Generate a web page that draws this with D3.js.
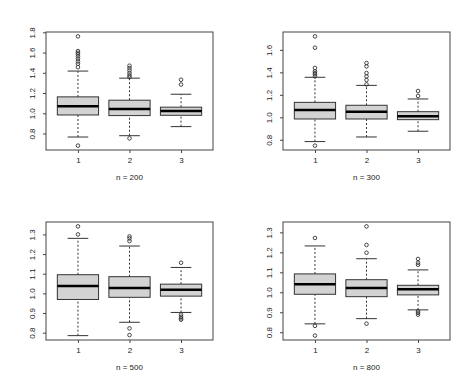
<!DOCTYPE html>
<html>
<head>
<meta charset="utf-8">
<script src="https://cdn.jsdelivr.net/npm/d3@7"></script>
<style>
  body { margin: 0; background: #fff; }
  text { font-family: "Liberation Sans", Arial, sans-serif; fill: #222; }
</style>
</head>
<body>
<div id="chart"></div>
<script>
// groups on the x axis
const groups = [1, 2, 3];
const titles = ["n = 200", "n = 300", "n = 500", "n = 800"];

// five number summaries per group: [lower whisker, q1, median, q3, upper whisker]
const box200 = [[0.765, 0.983, 1.069, 1.162, 1.417], [0.778, 0.977, 1.043, 1.129, 1.347], [0.868, 0.980, 1.023, 1.060, 1.188]];
const box300 = [[0.784, 0.985, 1.065, 1.133, 1.356], [0.825, 0.985, 1.050, 1.107, 1.284], [0.876, 0.979, 1.009, 1.050, 1.163]];
const box500 = [[0.785, 0.969, 1.037, 1.095, 1.280], [0.853, 0.980, 1.027, 1.085, 1.241], [0.903, 0.986, 1.019, 1.047, 1.132]];
const box800 = [[0.842, 0.990, 1.040, 1.092, 1.232], [0.868, 0.978, 1.022, 1.063, 1.168], [0.912, 0.987, 1.015, 1.035, 1.112]];

// outliers per group
const out200 = [[1.76, 1.615, 1.598, 1.582, 1.562, 1.539, 1.512, 1.489, 1.456, 0.68], [1.47, 1.446, 1.423, 1.397, 1.374, 1.357, 0.752], [1.331, 1.284]];
const out300 = [[1.72, 1.619, 1.439, 1.409, 1.394, 1.382, 1.364, 0.748], [1.483, 1.453, 1.394, 1.364, 1.332, 1.293], [1.234, 1.19]];
const out500 = [[1.341, 1.30], [1.29, 1.28, 1.266, 0.822, 0.788], [1.156, 0.892, 0.881, 0.873, 0.866]];
const out800 = [[1.272, 0.832, 0.783], [1.33, 1.237, 1.198, 0.843], [1.167, 1.148, 1.138, 0.905, 0.897, 0.888]];

// y tick labels
const ticks200 = [0.8, 1.0, 1.2, 1.4, 1.6, 1.8];
const ticks300 = [0.8, 1.0, 1.2, 1.4, 1.6];
const ticks500 = [0.8, 0.9, 1.0, 1.1, 1.2, 1.3];
const ticks800 = [0.8, 0.9, 1.0, 1.1, 1.2, 1.3];

const panels = [
  {title: titles[0], box: box200, out: out200, ticks: ticks200, x: 46, y: 32},
  {title: titles[1], box: box300, out: out300, ticks: ticks300, x: 283, y: 32},
  {title: titles[2], box: box500, out: out500, ticks: ticks500, x: 46, y: 222},
  {title: titles[3], box: box800, out: out800, ticks: ticks800, x: 283, y: 222}
];

const W = 474, H = 379;
const pw = 167, ph = 118;

const svg = d3.select("#chart").append("svg")
    .attr("width", W)
    .attr("height", H);

function drawPanel(p) {
  const g = svg.append("g").attr("transform", `translate(${p.x},${p.y})`);

  // R style range with 4% padding
  const all = p.box.flat().concat(p.out.flat());
  const lo = d3.min(all), hi = d3.max(all);
  const pad = (hi - lo) * 0.04;

  const y = d3.scaleLinear().domain([lo - pad, hi + pad]).range([ph, 0]);
  const x = d3.scaleLinear().domain([0.38, 3.62]).range([0, pw]);
  const bw = (x(1.4) - x(0.6));

  // boxes
  const grp = g.selectAll("g.grp")
    .data(p.box)
    .join("g")
      .attr("class", "grp");

  grp.append("line")
      .attr("x1", (d, i) => x(groups[i]))
      .attr("x2", (d, i) => x(groups[i]))
      .attr("y1", d => y(d[0]))
      .attr("y2", d => y(d[1]))
      .attr("stroke", "#333")
      .attr("stroke-dasharray", "2,2");
  grp.append("line")
      .attr("x1", (d, i) => x(groups[i]))
      .attr("x2", (d, i) => x(groups[i]))
      .attr("y1", d => y(d[3]))
      .attr("y2", d => y(d[4]))
      .attr("stroke", "#333")
      .attr("stroke-dasharray", "2,2");
  // whisker caps (half box width)
  [0, 4].forEach(k => {
    grp.append("line")
        .attr("x1", (d, i) => x(groups[i]) - bw / 4)
        .attr("x2", (d, i) => x(groups[i]) + bw / 4)
        .attr("y1", d => y(d[k]))
        .attr("y2", d => y(d[k]))
        .attr("stroke", "#333");
  });
  grp.append("rect")
      .attr("x", (d, i) => x(groups[i]) - bw / 2)
      .attr("width", bw)
      .attr("y", d => y(d[3]))
      .attr("height", d => y(d[1]) - y(d[3]))
      .attr("fill", "#d3d3d3")
      .attr("stroke", "#333");
  grp.append("line")
      .attr("x1", (d, i) => x(groups[i]) - bw / 2)
      .attr("x2", (d, i) => x(groups[i]) + bw / 2)
      .attr("y1", d => y(d[2]))
      .attr("y2", d => y(d[2]))
      .attr("stroke", "#000")
      .attr("stroke-width", 2.5);

  // outliers
  p.out.forEach((vals, i) => {
    g.selectAll(null)
      .data(vals)
      .join("circle")
        .attr("cx", x(groups[i]))
        .attr("cy", d => y(d))
        .attr("r", 1.8)
        .attr("fill", "none")
        .attr("stroke", "#333")
        .attr("stroke-width", 0.9);
  });

  // frame
  g.append("rect")
      .attr("width", pw)
      .attr("height", ph)
      .attr("fill", "none")
      .attr("stroke", "#444");

  // axes
  const xAxis = d3.axisBottom(x).tickValues(groups).tickFormat(d3.format("d"))
      .tickSize(3).tickPadding(4).tickSizeOuter(0);
  const xg = g.append("g").attr("transform", `translate(0,${ph})`).call(xAxis);
  xg.select(".domain").remove();
  xg.selectAll("text").attr("font-size", 8).attr("font-family", "Liberation Sans, Arial, sans-serif");
  xg.selectAll("line").attr("stroke", "#444");

  const yAxis = d3.axisLeft(y).tickValues(p.ticks).tickFormat(d3.format(".1f")).tickSize(3).tickSizeOuter(0);
  const yg = g.append("g").call(yAxis);
  yg.select(".domain").remove();
  yg.selectAll("line").attr("stroke", "#444");
  yg.selectAll("text")
      .attr("font-size", 8)
      .attr("font-family", "Liberation Sans, Arial, sans-serif")
      .attr("text-anchor", "middle")
      .attr("x", 0).attr("dy", 0)
      .attr("transform", "translate(-11,0) rotate(-90)");

  g.append("text")
      .attr("x", pw / 2)
      .attr("y", ph + 30)
      .attr("text-anchor", "middle")
      .attr("font-size", 8)
      .text(p.title);
}

panels.forEach(drawPanel);
</script>
</body>
</html>
